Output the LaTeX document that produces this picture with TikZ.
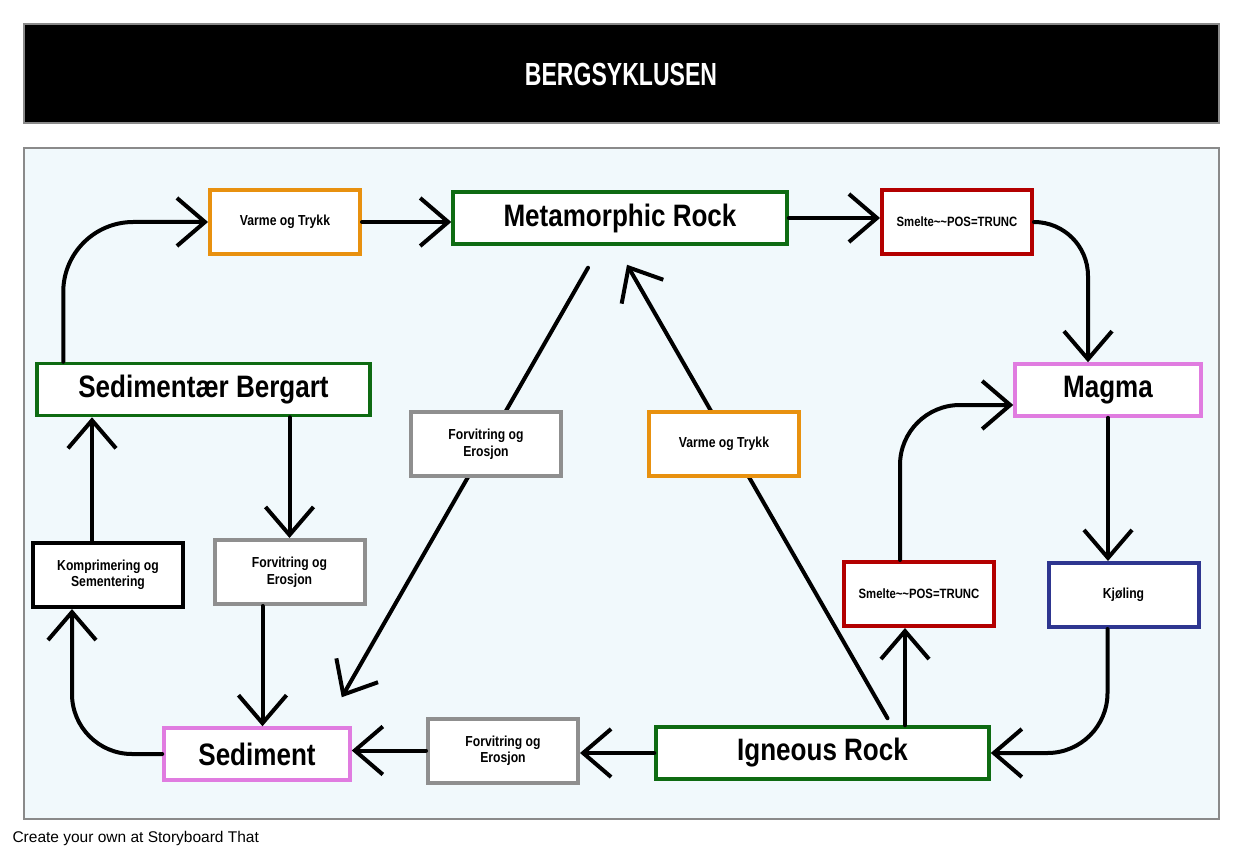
\documentclass[tikz,border=0pt]{standalone}
\usepackage{fontspec}
\setmainfont{Liberation Sans}
\newfontfamily\boxfont{Liberation Sans}[FakeStretch=0.84]
\newfontfamily\titlefont{Liberation Sans}[FakeStretch=0.72]
\usepackage{xcolor}
\usetikzlibrary{arrows.meta,calc,positioning,backgrounds}
\definecolor{panelbg}{HTML}{F1F9FC}
\definecolor{framegray}{HTML}{8A8A8A}
\definecolor{orangeC}{HTML}{E8910F}
\definecolor{greenC}{HTML}{0E6B12}
\definecolor{redC}{HTML}{B30000}
\definecolor{pinkC}{HTML}{E07CE0}
\definecolor{grayC}{HTML}{8F8F8F}
\definecolor{blueC}{HTML}{2E3690}
\tikzset{
  smallbox/.style={draw,line width=4pt,fill=white,minimum width=150pt,minimum height=64pt,
    inner sep=0pt,align=center,font=\boxfont\bfseries\fontsize{14.5}{16.5}\selectfont},
  bigbox/.style={draw,line width=3.5pt,fill=white,minimum height=52pt,
    inner sep=0pt,font=\boxfont\bfseries\fontsize{31}{34}\selectfont},
  arr/.style={-{Straight Barb[length=28pt,width=48pt]},line width=4pt,line cap=round,black}
}
\begin{document}
\begin{tikzpicture}[x=1pt,y=-1pt]
    \useasboundingbox (0,0) rectangle (1244,858);
    \draw[framegray,line width=2pt,fill=black] (24,24) rectangle (1219,123);
    \node[text=white,font=\titlefont\bfseries\fontsize{32}{34}\selectfont] (title) at (621,74) {BERGSYKLUSEN};
    \node[anchor=west,font=\fontsize{15.5}{17}\selectfont] (credit) at (9,838) {Create your own at Storyboard That};
    % boxes
    \node[smallbox,draw=orangeC] (vt1) at (285,222) {Varme og Trykk};
    \node[bigbox,draw=greenC,minimum width=334pt] (mr) at (620,218) {Metamorphic Rock};
    \node[smallbox,draw=redC] (sm1) at (957,222) {\fontsize{13.5}{16}\selectfont Smelte\textasciitilde\textasciitilde POS=TRUNC};
    \node[bigbox,draw=greenC,minimum width=333pt] (sb) at (203.5,389.5) {Sediment\ae r Bergart};
    \node[bigbox,draw=pinkC,minimum width=186pt] (mg) at (1108,390) {Magma};
    \node[smallbox,draw=grayC] (fe2) at (486,444) {Forvitring og\\Erosjon};
    \node[smallbox,draw=orangeC] (vt2) at (724,444) {Varme og Trykk};
    \node[smallbox,draw=black] (ks) at (108,575) {Komprimering og\\Sementering};
    \node[smallbox,draw=grayC] (fe1) at (289.5,572) {Forvitring og\\Erosjon};
    \node[smallbox,draw=redC] (sm2) at (919,594) {\fontsize{13.5}{16}\selectfont Smelte\textasciitilde\textasciitilde POS=TRUNC};
    \node[smallbox,draw=blueC] (kj) at (1123.5,595) {Kj\o ling};
    \node[bigbox,draw=pinkC,minimum width=186pt] (sed) at (257,754) {Sediment};
    \node[smallbox,draw=grayC] (fe3) at (503,750.5) {Forvitring og\\Erosjon};
    \node[bigbox,draw=greenC,minimum width=333pt] (ir) at (822.5,753) {Igneous Rock};
    % helper points
    \coordinate (mtail) at ($(mr.south)+(-32,22)$);
    \coordinate (mtip) at ($(mr.south)+(7,19)$);
    \coordinate (sedtip) at ($(sed.north east)+(-10,-29)$);
    \coordinate (igtail) at ($(ir.north)+(65,-7)$);
    \coordinate (ksn) at ($(ks.north)+(-16,0)$);
    \coordinate (fes) at ($(fe1.south)+(-27,0)$);
    \coordinate (sms) at ($(sm2.south)+(-14,0)$);
    \begin{scope}[on background layer]
      \fill[white] (0,0) rectangle (1244,858);
      \fill[panelbg] (24,148) rectangle (1219,819);
      \draw[framegray,line width=2pt] (24,148) rectangle (1219,819);
      \draw[arr] (mtail) -- (sedtip);
      \draw[arr] (igtail) -- (mtip);
    \end{scope}
    % cycle arrows
    \draw[arr,rounded corners=70pt] ($(sb.north west)+(28,0)$) |- (vt1.west);
    \draw[arr] (vt1.east) -- (vt1.east -| mr.west);
    \draw[arr] (mr.east) -- (mr.east -| sm1.west);
    \draw[arr,rounded corners=54pt] (sm1.east) -| ($(mg.north)+(-20,0)$);
    \draw[arr] (mg.south) -- (mg.south |- kj.north);
    \draw[arr,rounded corners=60pt] ($(kj.south)+(-16,0)$) |- (ir.east);
    \draw[arr] (ir.west) -- (ir.west -| fe3.east);
    \draw[arr] (fe3.west) -- (fe3.west -| sed.east);
    \draw[arr,rounded corners=60pt] (sed.west) -| ($(ks.south)+(-36,0)$);
    \draw[arr] (ksn) -- (ksn |- sb.south);
    \draw[arr] (fe1.north |- sb.south) -- (fe1.north);
    \draw[arr] (fes) -- (fes |- sed.north);
    \draw[arr] (sms |- ir.north) -- (sms);
    \draw[arr,rounded corners=60pt] ($(sm2.north)+(-19,0)$) |- ($(mg.west)+(0,15)$);
\end{tikzpicture}
\end{document}
